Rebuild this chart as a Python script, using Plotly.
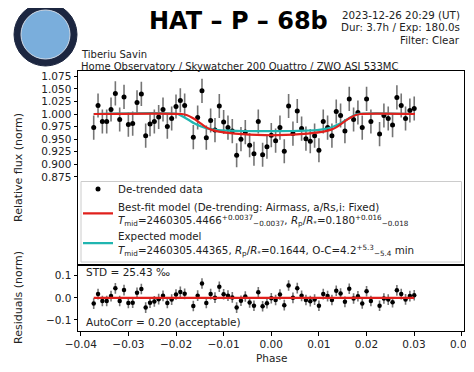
import plotly.graph_objects as go

# ---------------- data ----------------
phase = [-0.03730, -0.03639, -0.03548, -0.03457, -0.03366, -0.03275, -0.03184, -0.03093,
         -0.03002, -0.02911, -0.02820, -0.02729, -0.02638, -0.02547, -0.02456, -0.02365,
         -0.02274, -0.02183, -0.02092, -0.02001, -0.01910, -0.01819, -0.01637, -0.01546,
         -0.01455, -0.01364, -0.01273, -0.01182, -0.01091, -0.01000, -0.00909, -0.00818,
         -0.00727, -0.00636, -0.00545, -0.00454, -0.00363, -0.00272, -0.00181, -0.00090,
         0.00001, 0.00092, 0.00183, 0.00274, 0.00365, 0.00456, 0.00547, 0.00638,
         0.00729, 0.00820, 0.00911, 0.01002, 0.01093, 0.01184, 0.01275, 0.01366,
         0.01457, 0.01548, 0.01639, 0.01730, 0.01821, 0.01912, 0.02003, 0.02094,
         0.02276, 0.02367, 0.02458, 0.02549, 0.02640, 0.02731, 0.02822, 0.02913, 0.03004]

flux = [0.973, 1.017, 0.985, 0.985, 1.009, 1.041, 0.989, 1.034,
        0.979, 0.981, 1.023, 1.040, 0.957, 0.980, 0.985, 0.994,
        1.009, 0.975, 0.991, 1.015, 1.027, 1.017, 0.954, 0.993,
        1.046, 0.953, 0.987, 0.968, 1.016, 0.984, 0.973, 0.966,
        0.918, 0.950, 0.964, 0.938, 0.921, 0.985, 0.919, 0.935,
        0.958, 0.947, 0.973, 0.926, 1.016, 0.961, 1.006, 0.971,
        0.951, 0.946, 0.957, 0.928, 0.985, 0.973, 0.957, 1.005,
        0.997, 0.966, 1.030, 0.989, 1.003, 0.973, 1.030, 0.985,
        0.960, 0.997, 0.991, 0.978, 1.033, 1.017, 0.991, 1.007, 1.011]

residuals = [-0.026, 0.017, -0.014, -0.014, 0.008, 0.043, -0.014, 0.035,
             -0.023, -0.022, 0.023, 0.040, -0.044, -0.022, -0.016, -0.006,
             0.009, -0.023, -0.008, 0.015, 0.027, 0.018, -0.037, 0.010,
             0.065, -0.023, 0.017, 0.001, 0.050, 0.016, 0.010, 0.002,
             -0.044, -0.013, 0.006, -0.021, -0.036, 0.025, -0.038, -0.024,
             -0.002, -0.010, 0.015, -0.033, 0.056, 0.000, 0.044, 0.009,
             -0.010, -0.015, -0.008, -0.036, 0.017, 0.008, -0.010, 0.032,
             0.020, -0.018, 0.041, -0.003, 0.007, -0.025, 0.030, -0.014,
             -0.036, -0.003, -0.008, -0.020, 0.034, 0.017, -0.007, 0.008, 0.012]

flux_err = 0.024

best_phase = [-0.0373, -0.0188, -0.0178, -0.0165, -0.0152, -0.0139, -0.0126, -0.0110,
              -0.0090, -0.0060, -0.0030, 0.0000, 0.0030, 0.0060, 0.0090, 0.0110,
              0.0126, 0.0139, 0.0152, 0.0165, 0.0178, 0.0188, 0.0302]
best_flux = [1.000, 1.000, 0.998, 0.992, 0.984, 0.975, 0.969, 0.965,
             0.9625, 0.960, 0.9585, 0.9578, 0.9585, 0.960, 0.9625, 0.965,
             0.969, 0.975, 0.984, 0.992, 0.998, 1.000, 1.000]

exp_phase = [-0.0373, -0.0197, -0.0188, -0.0175, -0.0161, -0.0147, -0.0133, -0.0112,
             -0.0090, -0.0060, -0.0008, 0.0044, 0.0074, 0.0096, 0.0117, 0.0131,
             0.0145, 0.0159, 0.0172, 0.0181, 0.0302]
exp_flux = [1.000, 1.000, 0.996, 0.989, 0.981, 0.975, 0.971, 0.968,
            0.967, 0.9662, 0.9658, 0.9662, 0.967, 0.968, 0.971, 0.975,
            0.981, 0.989, 0.996, 1.000, 1.000]

flux_ticks = [0.875, 0.900, 0.925, 0.950, 0.975, 1.000, 1.025, 1.050, 1.075]
resid_ticks = [-0.1, 0.0, 0.1]
phase_ticks = [-0.04, -0.03, -0.02, -0.01, 0.00, 0.01, 0.02, 0.03, 0.04]

title_text = "HAT – P – 68b"
info_lines = ["2023-12-26 20:29 (UT)", "Dur: 3.7h / Exp: 180.0s", "Filter: Clear"]
observer = "Tiberiu Savin"
setup = "Home Observatory / Skywatcher 200 Quattro / ZWO ASI 533MC"
std_text = "STD = 25.43 ‰"
autocorr_text = "AutoCorr = 0.20 (acceptable)"

# ---------------- layout geometry (page has an 8px body margin) ----------------
OFF = 8
W, H = 474 - OFF, 372 - OFF
L, R, T, B = 78 - OFF, 10, 71 - OFF, 41
PW, PH = W - L - R, H - T - B
BOTTOM = OFF + H - B   # screen y of the plot-area bottom


def px(x):
    """screen x -> paper x"""
    return (x - OFF - L) / PW


def py(y):
    """screen y -> paper y"""
    return (BOTTOM - y) / PH


split = py(264.7)
FONT = "DejaVu Sans"
RED = "#e0201c"
CYAN = "#20b5b0"
ERRC = "#757575"

fig = go.Figure()

# top panel: data
fig.add_trace(go.Scatter(
    x=phase, y=flux, mode="markers", name="De-trended data",
    marker=dict(color="black", size=5),
    error_y=dict(type="constant", value=flux_err, color=ERRC, thickness=1.6, width=0),
    xaxis="x2", yaxis="y2", legendrank=1))
# expected model
fig.add_trace(go.Scatter(
    x=exp_phase, y=exp_flux, mode="lines",
    name=("Expected model<br><i>T</i><sub>mid</sub>=2460305.44365, "
          "<i>R</i><sub>p</sub>/<i>R</i><sub>*</sub>=0.1644, "
          "O-C=4.2<sup>+5.3</sup><sub>−5.4</sub> min"),
    line=dict(color=CYAN, width=2.2, shape="spline", smoothing=0.8),
    xaxis="x2", yaxis="y2", legendrank=3))
# best-fit model
fig.add_trace(go.Scatter(
    x=best_phase, y=best_flux, mode="lines",
    name=("Best-fit model (De-trending: Airmass, a/Rs,i: Fixed)<br>"
          "<i>T</i><sub>mid</sub>=2460305.4466<sup>+0.0037</sup><sub>−0.0037</sub>, "
          "<i>R</i><sub>p</sub>/<i>R</i><sub>*</sub>=0.180<sup>+0.016</sup><sub>−0.018</sub>"),
    line=dict(color=RED, width=2.2, shape="spline", smoothing=0.8),
    xaxis="x2", yaxis="y2", legendrank=2))

# residual panel
fig.add_trace(go.Scatter(
    x=phase, y=residuals, mode="markers", showlegend=False,
    marker=dict(color="black", size=4.5),
    error_y=dict(type="constant", value=flux_err, color=ERRC, thickness=1.6, width=0),
    xaxis="x", yaxis="y"))
fig.add_trace(go.Scatter(
    x=[phase[0], phase[-1]], y=[0, 0], mode="lines", showlegend=False,
    line=dict(color=RED, width=2.2), xaxis="x", yaxis="y"))

axis_common = dict(showline=True, linecolor="black", linewidth=1, mirror=True,
                   ticks="outside", ticklen=3.5, tickwidth=1, tickcolor="black",
                   showgrid=False, zeroline=False, automargin=False,
                   tickfont=dict(family=FONT, size=10.5, color="#222"))

xrange = [-0.0406, 0.0405]
fig.update_layout(
    template="none",
    width=W, height=H,
    margin=dict(l=L, r=R, t=T, b=B, autoexpand=False),
    paper_bgcolor="white", plot_bgcolor="white",
    font=dict(family=FONT, color="#222"),
    showlegend=True,
    xaxis=dict(domain=[0, 1], anchor="y", range=xrange, tickvals=phase_ticks,
               tickformat=".2f", **axis_common),
    xaxis2=dict(domain=[0, 1], anchor="y2", range=xrange, matches="x",
                showticklabels=False, showline=True, linecolor="black", linewidth=1,
                mirror=True, ticks="", showgrid=False, zeroline=False, automargin=False),
    yaxis=dict(domain=[0, split], anchor="x", range=[-0.15, 0.15],
               tickvals=resid_ticks, tickformat=".1f", **axis_common),
    yaxis2=dict(domain=[split, 1], anchor="x2", range=[0.7004, 1.0855],
                tickvals=flux_ticks, tickformat=".3f", **axis_common),
    legend=dict(x=px(78), y=py(174.5), xanchor="left", yanchor="top",
                bgcolor="rgba(0,0,0,0)", borderwidth=0,
                font=dict(family=FONT, size=10.3, color="#222"),
                itemwidth=30, tracegroupgap=0, traceorder="normal"),
)

# legend frame (drawn as a shape so it spans the panel width)
fig.add_shape(type="rect", xref="paper", yref="paper",
              x0=px(81), x1=px(461.5), y0=py(262), y1=py(181.5),
              fillcolor="rgba(255,255,255,0.85)", line=dict(color="#cccccc", width=1),
              layer="above")

# logo
fig.add_shape(type="circle", xref="paper", yref="paper",
              x0=px(14), x1=px(77), y0=py(66), y1=py(3),
              fillcolor="#1c2640", line=dict(color="#1c2640", width=1), layer="above")
fig.add_shape(type="circle", xref="paper", yref="paper",
              x0=px(21), x1=px(70), y0=py(59), y1=py(10),
              fillcolor="#7aaedc", line=dict(color="#cfd9e6", width=1), layer="above")

ann = []


def add_text(text, x, y, size, xanchor="left", yanchor="middle", angle=0, bold=False):
    ann.append(dict(text=("<b>%s</b>" % text) if bold else text,
                    x=px(x), y=py(y), xref="paper", yref="paper",
                    xanchor=xanchor, yanchor=yanchor, showarrow=False,
                    textangle=angle, borderpad=0,
                    font=dict(family=FONT, size=size, color="black" if bold else "#222")))


add_text(title_text, 238, 21, 24, xanchor="center", bold=True)
add_text(info_lines[0], 461, 15, 10.3, xanchor="right")
add_text(info_lines[1], 461, 27.5, 10.3, xanchor="right")
add_text(info_lines[2], 461, 40, 10.3, xanchor="right")
add_text(observer, 80, 54, 10)
add_text(setup, 80, 66.5, 10)
add_text(std_text, 85, 271.5, 10.5)
add_text(autocorr_text, 85, 322, 10.5)
add_text("Relative flux (norm)", 18, 168, 11, xanchor="center", angle=-90)
add_text("Residuals (norm)", 18, 298, 11, xanchor="center", angle=-90)
add_text("Phase", 271.5, 358, 10.5, xanchor="center")
fig.update_layout(annotations=ann)

fig.write_html("out.html")
